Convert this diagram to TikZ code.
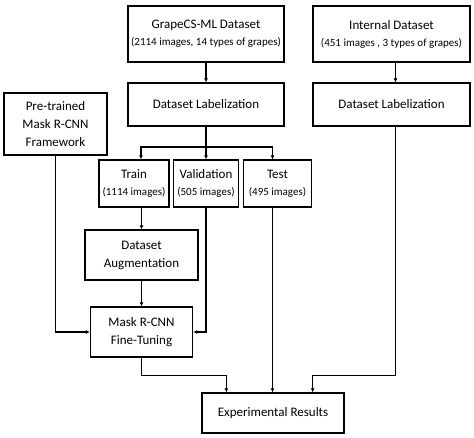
\documentclass[tikz,border=0pt]{standalone}
\usepackage{fontspec}
\setmainfont{Carlito}
\usetikzlibrary{arrows.meta}

\tikzstyle{block}=[draw, line width=1.3pt, align=center, inner sep=2pt, font=\fontsize{13}{18}\selectfont]
\tikzstyle{flow}=[line width=1.1pt, -{Latex[length=4pt,width=4pt]}]
\newcommand{\imgcount}[1]{{\fontsize{11}{14}\selectfont #1}}

\begin{document}
\begin{tikzpicture}[x=1pt,y=-1pt]
        \useasboundingbox (0,0) rectangle (474,438);
        % datasets
        \node[block, minimum width=156pt, minimum height=56pt] (gcs) at (206,34) {GrapeCS-ML Dataset\\[-1pt]\imgcount{(2114 images, 14 types of grapes)}};
        \node[block, minimum width=157pt, minimum height=56pt] (ids) at (391.5,34) {Internal Dataset\\[-1pt]\imgcount{(451 images , 3 types of grapes)}};
        \node[block, minimum width=156pt, minimum height=43pt] (lab1) at (206,104.5) {Dataset Labelization};
        \node[block, minimum width=157pt, minimum height=43pt] (lab2) at (391.5,104.5) {Dataset Labelization};
        \node[block, minimum width=103pt, minimum height=62pt] (pre) at (55.5,124) {Pre-trained\\Mask R-CNN\\Framework};
        % splits
        \node[block, minimum width=70pt, minimum height=47pt] (train) at (134,183.5) {Train\\[-1pt]\imgcount{(1114 images)}};
        \node[block, minimum width=65pt, minimum height=47pt] (val) at (206,183.5) {Validation\\[-1pt]\imgcount{(505 images)}};
        \node[block, minimum width=68pt, minimum height=47pt] (test) at (277.5,183.5) {Test\\[-1pt]\imgcount{(495 images)}};
        \node[block, minimum width=113pt, minimum height=50pt] (aug) at (141.5,255) {Dataset\\Augmentation};
        \node[block, minimum width=102pt, minimum height=50pt] (mask) at (141.5,332) {Mask R-CNN\\Fine-Tuning};
        \node[block, minimum width=142pt, minimum height=40pt] (res) at (273,413) {Experimental Results};
        % connectors
        \coordinate (split) at (206,147);
        \draw[flow] (gcs) -- (lab1);
        \draw[flow] ([xshift=4pt]ids.south) -- ([xshift=4pt]lab2.north);
        \draw[line width=1.1pt] (lab1) -- (split);
        \draw[flow] (split) -| ([xshift=7pt]train.north);
        \draw[flow] (split) -- (val);
        \draw[flow] (split) -| ([xshift=-5pt]test.north);
        \draw[flow] (train.south -| aug.north) -- (aug);
        \draw[flow] (aug) -- (mask);
        \draw[flow] (pre) |- (mask);
        \draw[flow] (val) |- (mask);
        \draw[flow] (mask.south) -- ++(0,18) -| ([xshift=25pt]res.north west);
        \draw[flow] ([xshift=-5pt]test.south) -- ([xshift=-5pt]test.south |- res.north);
        \draw[flow] ([xshift=4pt]lab2.south) -- ++(0,249) -| ([xshift=-32pt]res.north east);
    \end{tikzpicture}
\end{document}
